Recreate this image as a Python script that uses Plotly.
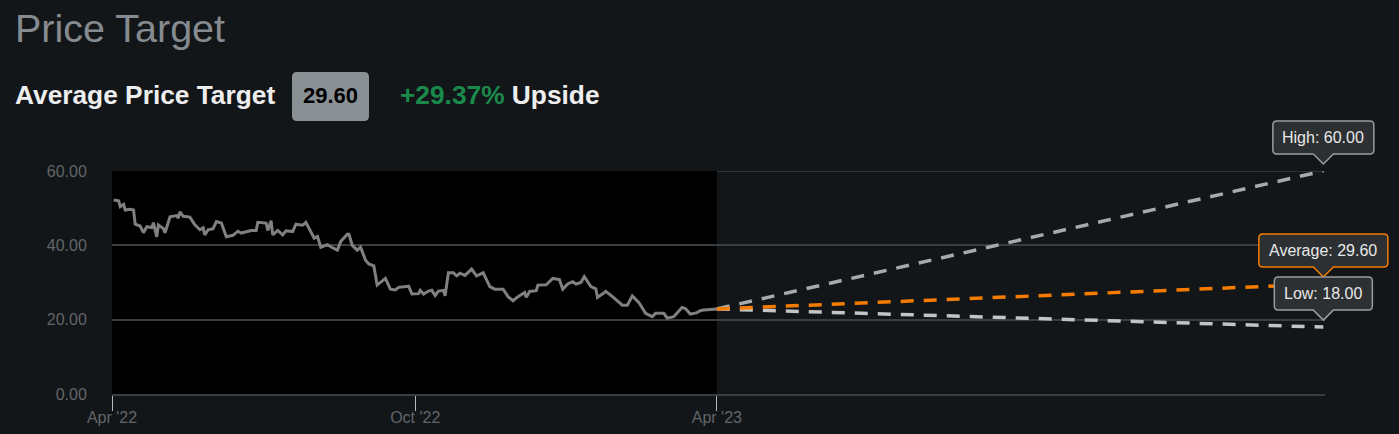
import plotly.graph_objects as go
import pandas as pd

# ---------------- data ----------------
dates = [
    "2022-04-02", "2022-04-05", "2022-04-06", "2022-04-08", "2022-04-09", "2022-04-12",
    "2022-04-14", "2022-04-15", "2022-04-18", "2022-04-20", "2022-04-22", "2022-04-25",
    "2022-04-26", "2022-04-28", "2022-04-29", "2022-05-02", "2022-05-03", "2022-05-06",
    "2022-05-10", "2022-05-11", "2022-05-12", "2022-05-14", "2022-05-18", "2022-05-21",
    "2022-05-24", "2022-05-26", "2022-05-27", "2022-05-29", "2022-06-01", "2022-06-03",
    "2022-06-06", "2022-06-09", "2022-06-13", "2022-06-16", "2022-06-18", "2022-06-21",
    "2022-06-24", "2022-06-27", "2022-06-28", "2022-07-03", "2022-07-04", "2022-07-06",
    "2022-07-07", "2022-07-10", "2022-07-13", "2022-07-15", "2022-07-19", "2022-07-21",
    "2022-07-25", "2022-07-27", "2022-07-29", "2022-08-01", "2022-08-03", "2022-08-05",
    "2022-08-09", "2022-08-11", "2022-08-15", "2022-08-17", "2022-08-21", "2022-08-22",
    "2022-08-24", "2022-08-27", "2022-08-29", "2022-09-01", "2022-09-03", "2022-09-06",
    "2022-09-08", "2022-09-13", "2022-09-16", "2022-09-19", "2022-09-21", "2022-09-27",
    "2022-09-29", "2022-10-03", "2022-10-04", "2022-10-06", "2022-10-09", "2022-10-11",
    "2022-10-13", "2022-10-15", "2022-10-18", "2022-10-19", "2022-10-21", "2022-10-24",
    "2022-10-26", "2022-10-28", "2022-10-31", "2022-11-02", "2022-11-04", "2022-11-07",
    "2022-11-11", "2022-11-15", "2022-11-18", "2022-11-23", "2022-11-26", "2022-11-29",
    "2022-12-02", "2022-12-06", "2022-12-07", "2022-12-09", "2022-12-13", "2022-12-14",
    "2022-12-19", "2022-12-23", "2022-12-27", "2022-12-29", "2023-01-01", "2023-01-04",
    "2023-01-06", "2023-01-09", "2023-01-11", "2023-01-15", "2023-01-18", "2023-01-19",
    "2023-01-24", "2023-01-28", "2023-02-03", "2023-02-06", "2023-02-09", "2023-02-13",
    "2023-02-17", "2023-02-21", "2023-02-23", "2023-02-28", "2023-03-02", "2023-03-06",
    "2023-03-11", "2023-03-13", "2023-03-16", "2023-03-20", "2023-03-22", "2023-03-24",
    "2023-03-28", "2023-04-01",
]
prices = [
    52.2, 52.0, 50.4, 51.0, 49.5, 49.7,
    49.5, 45.7, 45.2, 43.4, 45.0, 44.8,
    46.1, 42.3, 45.5, 44.5, 43.4, 47.7,
    48.0, 47.3, 49.0, 47.8, 47.6, 45.5,
    44.2, 44.7, 42.8, 44.2, 44.5, 46.4,
    46.0, 42.3, 42.7, 43.8, 43.3, 43.6,
    44.0, 44.0, 46.2, 46.0, 44.0, 46.6,
    42.8, 44.0, 42.8, 43.9, 43.7, 45.7,
    45.4, 46.2, 44.4, 41.9, 42.4, 39.5,
    40.2, 39.6, 38.7, 41.0, 43.0, 43.0,
    40.0, 38.7, 39.5, 36.0, 35.0, 34.5,
    29.3, 31.1, 28.2, 28.0, 28.7, 29.0,
    26.9, 27.0, 27.9, 26.9, 27.7, 27.9,
    26.5, 27.7, 27.9, 26.4, 32.6, 32.6,
    31.8, 32.5, 31.9, 32.9, 33.6, 31.8,
    32.6, 28.9, 28.2, 28.2, 26.2, 25.1,
    26.2, 27.3, 26.0, 27.6, 27.8, 29.3,
    29.4, 31.1, 30.8, 28.2, 29.6, 30.2,
    29.6, 30.0, 31.6, 28.9, 28.3, 26.0,
    27.6, 26.2, 23.9, 23.9, 26.4, 24.6,
    21.7, 20.8, 21.7, 21.7, 20.4, 20.8,
    23.3, 23.0, 21.5, 21.9, 22.4, 22.6,
    22.8, 22.88,
]
last_date = "2023-04-01"
last_price = 22.88
target_date = "2024-04-01"
target_labels = ["High", "Average", "Low"]
target_values = [60.00, 29.60, 18.00]
average_target = 29.60
upside_pct = 29.37
x_tickvals = ["2022-04-01", "2022-10-01", "2023-04-01"]
x_ticktext = ["Apr '22", "Oct '22", "Apr '23"]
y_tickvals = [0, 20, 40, 60]

# ---------------- style ----------------
W, H = 1399, 434
ML, MR, MT, MB = 112, 74, 171, 40
PW, PH = W - ML - MR, H - MT - MB
X_RANGE = ["2022-04-01", "2024-04-02"]
Y_RANGE = [0, 60]
BG = "#131619"
GRID = "#3a3d40"
FONT = "Liberation Sans, Arial, sans-serif"
line_colors = {"High": "#a9a9a9", "Average": "#f57c00", "Low": "#c4c4c4"}
box_border = {"High": "#9c9c9c", "Average": "#f57c00", "Low": "#9c9c9c"}
box_width = {"High": 101, "Average": 129, "Low": 98}


def px(x):
    return (x - ML) / PW


def py(y):
    return (H - MB - y) / PH


fig = go.Figure()

fig.add_trace(go.Scatter(
    x=dates, y=prices, mode="lines",
    line=dict(color="#808080", width=3),
    hoverinfo="skip", showlegend=False,
))

for lab in ["High", "Low", "Average"]:
    v = target_values[target_labels.index(lab)]
    fig.add_trace(go.Scatter(
        x=[last_date, target_date], y=[last_price, v], mode="lines",
        line=dict(color=line_colors[lab], width=3.5, dash="13px,10px"),
        hoverinfo="skip", showlegend=False,
    ))

shapes = [
    dict(type="rect", xref="x", yref="y", x0=X_RANGE[0], x1=last_date,
         y0=Y_RANGE[0], y1=Y_RANGE[1], fillcolor="#000000", line=dict(width=0),
         layer="below"),
    dict(type="line", xref="paper", yref="y", x0=0, x1=1, y0=Y_RANGE[1], y1=Y_RANGE[1],
         line=dict(color=GRID, width=1.5), layer="between"),
]


def rounded_rect_paper(x0, y0, x1, y1, r):
    # pixel coords (top-left origin) -> paper path
    pts = (f"M {px(x0 + r)},{py(y0)} L {px(x1 - r)},{py(y0)} Q {px(x1)},{py(y0)} {px(x1)},{py(y0 + r)} "
           f"L {px(x1)},{py(y1 - r)} Q {px(x1)},{py(y1)} {px(x1 - r)},{py(y1)} "
           f"L {px(x0 + r)},{py(y1)} Q {px(x0)},{py(y1)} {px(x0)},{py(y1 - r)} "
           f"L {px(x0)},{py(y0 + r)} Q {px(x0)},{py(y0)} {px(x0 + r)},{py(y0)} Z")
    return pts


shapes.append(dict(type="path", xref="paper", yref="paper",
                   path=rounded_rect_paper(292, 72, 369, 121, 5),
                   fillcolor="#8a9194", line=dict(width=0)))


def callout_path(w, B=17, T=50, r=4, tip=7, half=10):
    L, R = -w / 2, w / 2
    return (f"M {L + r},{T} L {R - r},{T} Q {R},{T} {R},{T - r} L {R},{B + r} Q {R},{B} {R - r},{B} "
            f"L {half},{B} L 0,{tip} L {-half},{B} L {L + r},{B} Q {L},{B} {L},{B + r} "
            f"L {L},{T - r} Q {L},{T} {L + r},{T} Z")


t0 = pd.Timestamp(X_RANGE[0]).value
t1 = pd.Timestamp(X_RANGE[1]).value
tx = (pd.Timestamp(target_date).value - t0) / (t1 - t0)

annotations = []
for lab, v in zip(target_labels, target_values):
    ty = (v - Y_RANGE[0]) / (Y_RANGE[1] - Y_RANGE[0])
    shapes.append(dict(type="path", xref="paper", yref="paper",
                       xsizemode="pixel", ysizemode="pixel",
                       xanchor=tx, yanchor=ty,
                       path=callout_path(box_width[lab]),
                       fillcolor="#2d3033",
                       line=dict(color=box_border[lab], width=1.5)))
    annotations.append(dict(xref="x", yref="y", x=target_date, y=v,
                            text=f"{lab}: {v:.2f}", showarrow=False,
                            yshift=33.5, xanchor="center", yanchor="middle",
                            font=dict(size=16, color="#e8e8e8", family=FONT)))

annotations += [
    dict(xref="paper", yref="paper", x=px(13), y=py(28), xanchor="left", yanchor="middle",
         text="Price Target", showarrow=False,
         font=dict(size=39.5, color="#868b8f", family=FONT)),
    dict(xref="paper", yref="paper", x=px(13), y=py(95), xanchor="left", yanchor="middle",
         text="<b>Average Price Target</b>", showarrow=False,
         font=dict(size=26.3, color="#eeeeee", family=FONT)),
    dict(xref="paper", yref="paper", x=px(330.5), y=py(96), xanchor="center", yanchor="middle",
         text=f"<b>{average_target:.2f}</b>", showarrow=False,
         font=dict(size=22, color="#000000", family=FONT)),
    dict(xref="paper", yref="paper", x=px(398), y=py(95), xanchor="left", yanchor="middle",
         text=f"<b><span style='color:#1a8a4b'>+{upside_pct:.2f}%</span> Upside</b>",
         showarrow=False, font=dict(size=26.3, color="#eeeeee", family=FONT)),
]

fig.update_layout(
    width=W, height=H,
    margin=dict(l=ML, r=MR, t=MT, b=MB, pad=0, autoexpand=False),
    paper_bgcolor=BG, plot_bgcolor=BG,
    font=dict(family=FONT, color="#616569", size=16),
    shapes=shapes, annotations=annotations,
    showlegend=False,
    xaxis=dict(type="date", range=X_RANGE, tickvals=x_tickvals, ticktext=x_ticktext,
               showgrid=False, zeroline=False, showline=True, linecolor=GRID, linewidth=1.5,
               ticks="outside", ticklen=15, tickwidth=1, tickcolor="#b8b8b8",
               ticklabelstandoff=-7,
               automargin=False, tickfont=dict(size=16, color="#616569")),
    yaxis=dict(range=Y_RANGE, tickvals=y_tickvals, tickformat=".2f",
               showgrid=True, gridcolor=GRID, gridwidth=1.5, zeroline=False,
               showline=False, ticks="outside", ticklen=21, tickcolor="rgba(0,0,0,0)",
               automargin=False, tickfont=dict(size=16, color="#616569")),
)

fig.write_html("out.html", config={"displayModeBar": False},
               post_script="document.body.style.margin='0';document.body.style.overflow='hidden';")
